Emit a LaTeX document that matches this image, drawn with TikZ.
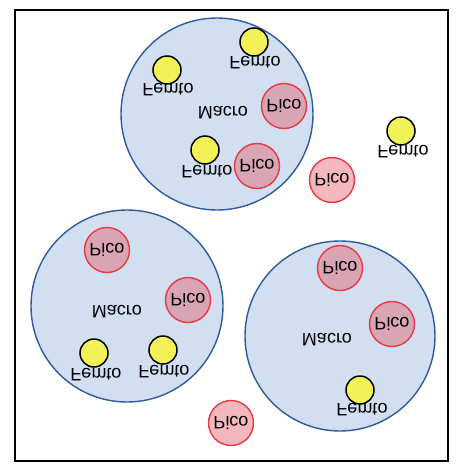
\documentclass[tikz,border=0pt]{standalone}
\usepackage{fontspec}
\setmainfont{Liberation Sans}
\definecolor{macrofill}{RGB}{210,223,241}
\definecolor{macroline}{RGB}{48,90,160}
\definecolor{picofill}{RGB}{229,84,97}
\definecolor{picoline}{RGB}{232,58,68}
\definecolor{femtofill}{RGB}{242,242,88}
\newcommand{\flipped}[1]{\scalebox{1}[-1]{#1}}
\begin{document}
\begin{tikzpicture}[x=1pt,y=-1pt,
  macro/.style={circle,draw=macroline,fill=macrofill,line width=1.4pt,minimum size=#1*2pt,inner sep=0pt},
  pico/.style={circle,draw=picoline,fill=picofill,fill opacity=0.42,text opacity=1,line width=1.4pt,minimum size=45pt,inner sep=0pt},
  femto/.style={circle,draw=black,fill=femtofill,line width=1.5pt,minimum size=28pt,inner sep=0pt},
  lbl/.style={inner sep=0pt,font=\fontsize{18}{18}\selectfont}]
\useasboundingbox (0,0) rectangle (474,474);
\draw[line width=1.6pt] (15,10) rectangle (448,461);
% macro cells
\node[macro=96] (m1) at (217,114) {};
\node[macro=96] (m2) at (127,306) {};
\node[macro=95] (m3) at (340,336) {};
\node[lbl] (m1t) at (223,113) {\flipped{Macro}};
\node[lbl] (m2t) at (117,312) {\flipped{Macro}};
\node[lbl] (m3t) at (327,340) {\flipped{Macro}};
% pico cells
\node[pico,lbl] (p1) at (284,106) {\flipped{Pico}};
\node[pico,lbl] (p2) at (257,166) {\flipped{Pico}};
\node[pico,lbl] (p3) at (332,180) {\flipped{Pico}};
\node[pico,lbl] (p4) at (107,250) {\flipped{Pico}};
\node[pico,lbl] (p5) at (188,300) {\flipped{Pico}};
\node[pico,lbl] (p6) at (340,268) {\flipped{Pico}};
\node[pico,lbl] (p7) at (392,324) {\flipped{Pico}};
\node[pico,lbl] (p8) at (231,423) {\flipped{Pico}};
% femto cells
\node[femto] (f1) at (167,70) {};
\node[femto] (f2) at (254,42) {};
\node[femto] (f3) at (205,150) {};
\node[femto] (f4) at (401,131) {};
\node[femto] (f5) at (94,353) {};
\node[femto] (f6) at (163,350) {};
\node[femto] (f7) at (360,390) {};
\node[lbl] (f1t) at (168,90) {\flipped{Femto}};
\node[lbl] (f2t) at (255,63) {\flipped{Femto}};
\node[lbl] (f3t) at (207,172) {\flipped{Femto}};
\node[lbl] (f4t) at (403,152) {\flipped{Femto}};
\node[lbl] (f5t) at (96,375) {\flipped{Femto}};
\node[lbl] (f6t) at (164,372) {\flipped{Femto}};
\node[lbl] (f7t) at (362,410) {\flipped{Femto}};
\end{tikzpicture}
\end{document}
